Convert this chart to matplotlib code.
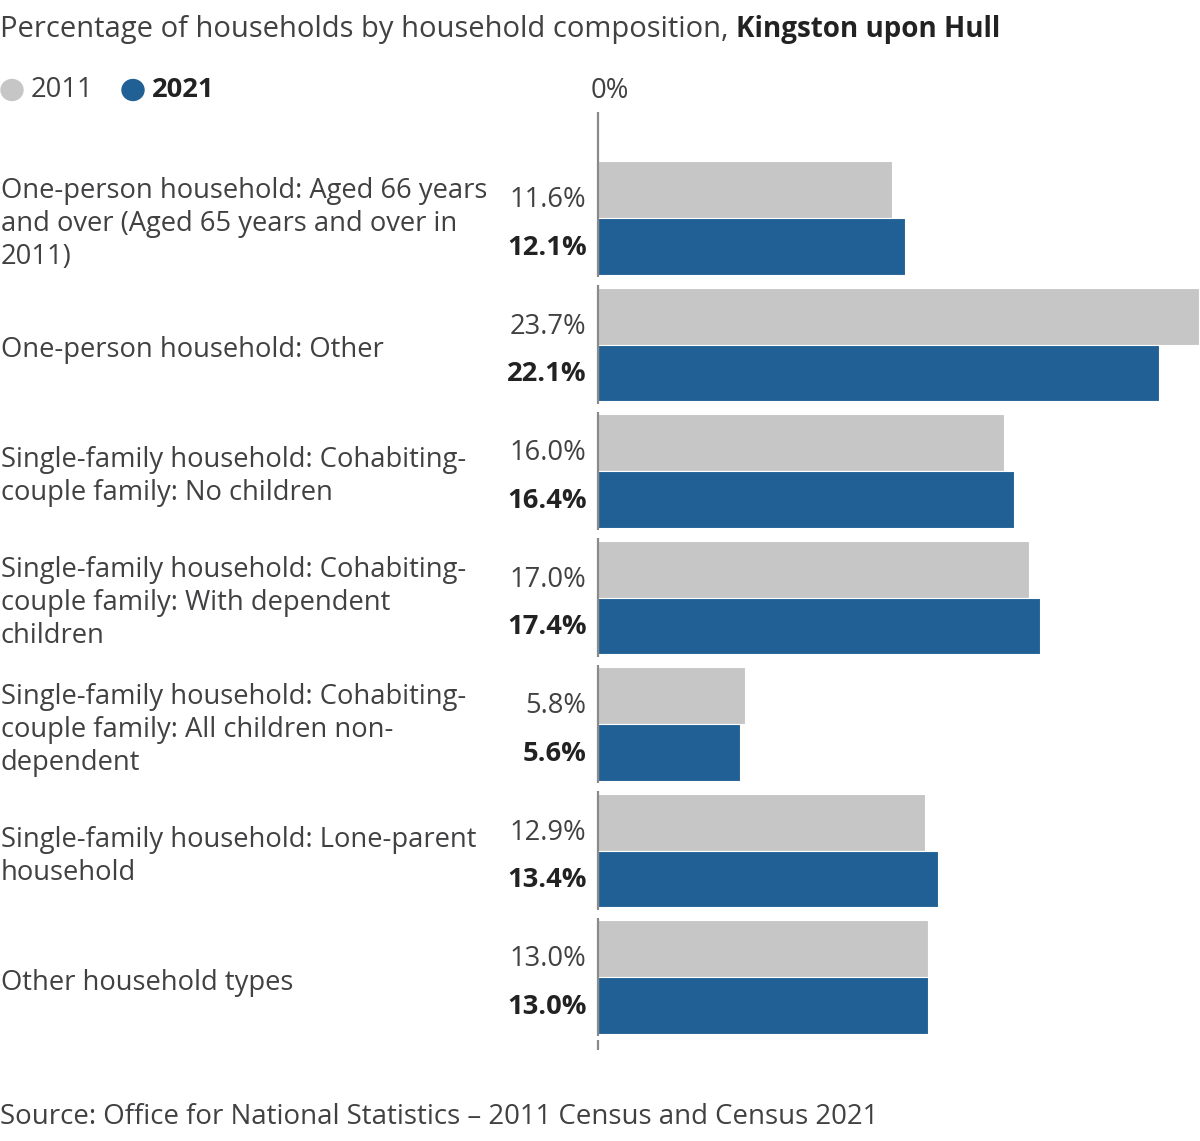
import numpy as np
import matplotlib.pyplot as plt
import matplotlib.transforms as mtransforms

plt.rcParams['font.family'] = ['Open Sans', 'DejaVu Sans']

# data
categories = [
    "One-person household: Aged 66 years\nand over (Aged 65 years and over in\n2011)",
    "One-person household: Other",
    "Single-family household: Cohabiting-\ncouple family: No children",
    "Single-family household: Cohabiting-\ncouple family: With dependent\nchildren",
    "Single-family household: Cohabiting-\ncouple family: All children non-\ndependent",
    "Single-family household: Lone-parent\nhousehold",
    "Other household types",
]
values_2011 = [11.6, 23.7, 16.0, 17.0, 5.8, 12.9, 13.0]
values_2021 = [12.1, 22.1, 16.4, 17.4, 5.6, 13.4, 13.0]
series_names = ["2011", "2021"]

GREY = '#c6c6c6'
BLUE = '#206095'
TEXT = '#414042'
TEXT_BOLD = '#222222'
AXIS = '#8a8a8a'
FS = 19.7


def draw_title(fig):
    """Title with the place name in bold, placed right after the plain part"""
    renderer = fig.canvas.get_renderer()
    y = 1 - 29 / 1141
    t1 = fig.text(0.0, y, "Percentage of households by household composition, ",
                  fontsize=21, color=TEXT, va='center', ha='left')
    bb = t1.get_window_extent(renderer=renderer)
    x2 = bb.x1 / fig.bbox.width
    fig.text(x2, y, "Kingston upon Hull", fontsize=20, fontweight='bold',
             color=TEXT_BOLD, va='center', ha='left')


def draw_legend(fig):
    y = 1 - 90 / 1141
    fig.patches.append(plt.Circle((12 / 1200, y), 11 / 1200, color=GREY,
                                  transform=fig.transFigure, figure=fig))
    fig.text(31 / 1200, y, series_names[0], fontsize=FS, color=TEXT, va='center')
    fig.patches.append(plt.Circle((133 / 1200, y), 11 / 1200, color=BLUE,
                                  transform=fig.transFigure, figure=fig))
    fig.text(152 / 1200, y, series_names[1], fontsize=FS, fontweight='bold',
             color=TEXT_BOLD, va='center')


fig = plt.figure(figsize=(12, 11.41), dpi=100)
ax = fig.add_axes([598 / 1200, 1 - 1050 / 1141, 602 / 1200, (1050 - 112) / 1141])

n = len(categories)
pos = np.arange(n)
h = 0.45

ax.barh(pos - h / 2, values_2011, height=h, color=GREY, edgecolor='white', linewidth=0.8)
ax.barh(pos + h / 2, values_2021, height=h, color=BLUE, edgecolor='white', linewidth=0.8)

ax.set_xlim(0, 23.72)
ax.set_ylim(6.577, -0.838)
ax.axis('off')

# axis line drawn as one segment per group, plus a small tick at the bottom
for i in pos:
    top = -0.838 if i == 0 else i - 0.47
    ax.plot([0, 0], [top, i + 0.47], color=AXIS, lw=1.6, solid_capstyle='butt', clip_on=False)
ax.plot([0, 0], [6.5, 6.577], color=AXIS, lw=1.6, solid_capstyle='butt', clip_on=False)

ax.annotate("0%", xy=(0, -0.838), xytext=(-5, 5), textcoords='offset points',
            ha='left', va='bottom', fontsize=FS, color=TEXT, annotation_clip=False)

# value labels left of the axis
for i in pos:
    ax.annotate(f"{values_2011[i]:.1f}%", xy=(0, i - 0.17), xytext=(-8.2, 0),
                textcoords='offset points', ha='right', va='center_baseline',
                fontsize=FS, color=TEXT, annotation_clip=False)
    ax.annotate(f"{values_2021[i]:.1f}%", xy=(0, i + 0.21), xytext=(-8.2, 0),
                textcoords='offset points', ha='right', va='center_baseline',
                fontsize=FS, fontweight='bold', color=TEXT_BOLD, annotation_clip=False)

# category labels at the left edge of the figure
trans = mtransforms.blended_transform_factory(fig.transFigure, ax.transData)
for i, label in enumerate(categories):
    fig.text(1 / 1200, i + 0.045, label, transform=trans, ha='left', va='center',
             fontsize=FS, color=TEXT, linespacing=1.24)

draw_title(fig)
draw_legend(fig)

fig.text(0.0, 1 - 1117 / 1141, "Source: Office for National Statistics \u2013 2011 Census and Census 2021",
         fontsize=19.9, color=TEXT, va='center', ha='left')

fig.savefig('out.png', dpi=100)
